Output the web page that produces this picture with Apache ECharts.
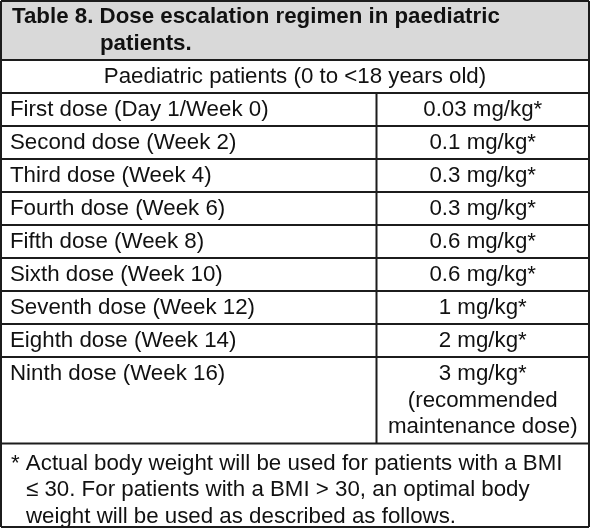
<!DOCTYPE html>
<html>
<head>
<meta charset="utf-8">
<script src="https://cdn.jsdelivr.net/npm/echarts@6/dist/echarts.min.js"></script>
<style>
html,body{margin:0;padding:0;background:#fff;}
#c{width:591px;height:529px;}
</style>
</head>
<body>
<div id="c"></div>
<script>
var titleLines = ['Table 8. Dose escalation regimen in paediatric', 'patients.'];
var subHeader = 'Paediatric patients (0 to <18 years old)';
var doseLabels = [
  'First dose (Day 1/Week 0)',
  'Second dose (Week 2)',
  'Third dose (Week 4)',
  'Fourth dose (Week 6)',
  'Fifth dose (Week 8)',
  'Sixth dose (Week 10)',
  'Seventh dose (Week 12)',
  'Eighth dose (Week 14)',
  'Ninth dose (Week 16)'
];
var doseValues = [
  ['0.03 mg/kg*'],
  ['0.1 mg/kg*'],
  ['0.3 mg/kg*'],
  ['0.3 mg/kg*'],
  ['0.6 mg/kg*'],
  ['0.6 mg/kg*'],
  ['1 mg/kg*'],
  ['2 mg/kg*'],
  ['3 mg/kg*', '(recommended', 'maintenance dose)']
];
var footnoteLines = [
  '* Actual body weight will be used for patients with a BMI',
  '\u2264 30. For patients with a BMI > 30, an optimal body',
  'weight will be used as described as follows.'
];

(function () {
  var L = 1, R = 589, T = 1, B = 527;
  var colSplit = 376.5;
  var titleBottom = 60;
  var subBottom = 93;
  var rowH = 33;
  var lineH = 26.5;
  var FONT = '"Liberation Sans", Arial, Helvetica, sans-serif';
  var FS = 22.3;
  var INK = '#111';
  var LINE = '#1c1c1c';

  var els = [];
  function text(t, x, y, align, bold) {
    els.push({
      type: 'text', silent: true, z: 10,
      style: {
        text: t, x: x, y: y,
        align: align, verticalAlign: 'middle',
        textAlign: align, textVerticalAlign: 'middle',
        fill: INK, fontSize: FS, fontFamily: FONT,
        fontWeight: bold ? 'bold' : 'normal'
      }
    });
  }
  function line(x1, y1, x2, y2, w) {
    els.push({
      type: 'line', silent: true, z: 20,
      shape: {x1: x1, y1: y1, x2: x2, y2: y2},
      style: {stroke: LINE, lineWidth: w || 2}
    });
  }

  els.push({type: 'rect', silent: true, z: 1,
    shape: {x: L, y: T, width: R - L, height: titleBottom - T},
    style: {fill: '#d9d9d9'}});

  text(titleLines[0], 12, 17, 'left', true);
  text(titleLines[1], 100, 44, 'left', true);
  line(L, titleBottom, R, titleBottom);

  text(subHeader, (L + R) / 2, (titleBottom + subBottom) / 2 + 0.5, 'center', false);
  line(L, subBottom, R, subBottom);

  var y = subBottom;
  var rightMid = (colSplit + R) / 2;
  for (var i = 0; i < doseLabels.length; i++) {
    var vals = doseValues[i];
    var h = vals.length > 1 ? (vals.length * lineH + 7) : rowH;
    var rowTop = y;
    if (vals.length > 1) {
      text(doseLabels[i], 10, rowTop + 17, 'left', false);
      for (var k = 0; k < vals.length; k++) {
        text(vals[k], rightMid, rowTop + 17 + k * lineH, 'center', false);
      }
    } else {
      text(doseLabels[i], 10, rowTop + h / 2 + 0.5, 'left', false);
      text(vals[0], rightMid, rowTop + h / 2 + 0.5, 'center', false);
    }
    y = rowTop + h;
    line(L, y, R, y);
  }
  line(colSplit, subBottom, colSplit, y);

  for (var j = 0; j < footnoteLines.length; j++) {
    text(footnoteLines[j], j === 0 ? 11 : 26, y + 20 + j * lineH, 'left', false);
  }

  line(L, T, R, T);
  line(L, B, R, B);
  line(L, T, L, B);
  line(R, T, R, B);

  var chart = echarts.init(document.getElementById('c'), null, {renderer: 'canvas'});
  chart.setOption({
    backgroundColor: '#fff',
    animation: false,
    graphic: {elements: els}
  });
})();
</script>
</body>
</html>
